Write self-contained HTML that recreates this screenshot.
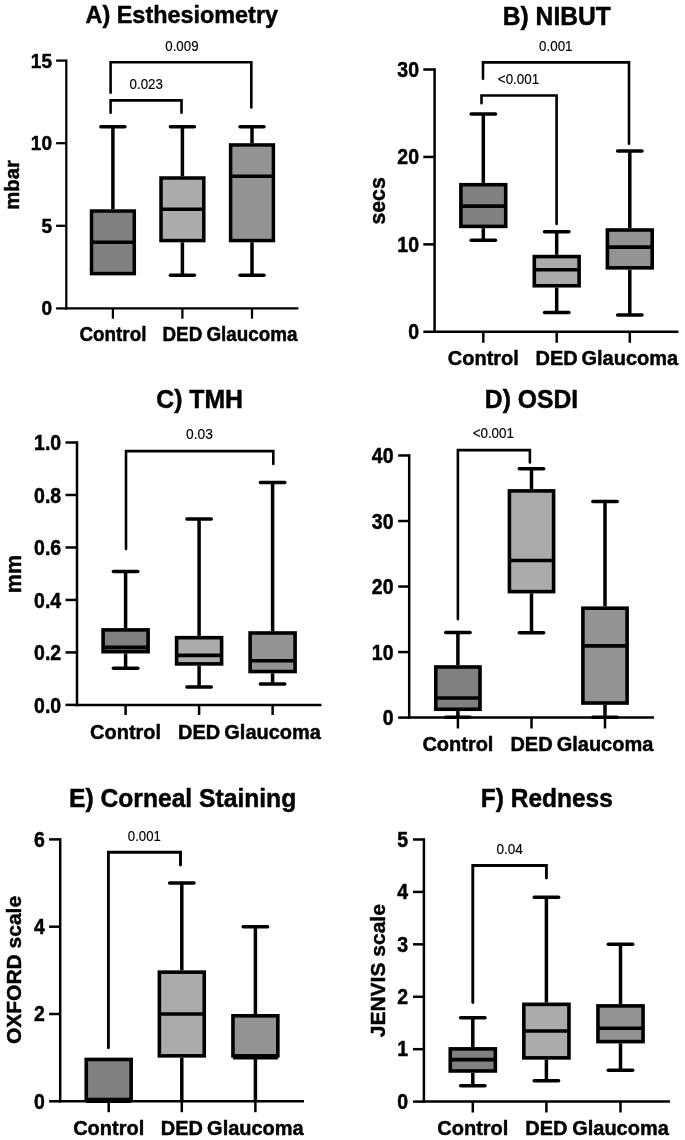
<!DOCTYPE html>
<html><head><meta charset="utf-8"><title>Box plots</title>
<style>
html,body{margin:0;padding:0;background:#fff;}
body{width:685px;height:1140px;overflow:hidden;}
svg{display:block;}
svg text{font-family:'Liberation Sans', Arial, Helvetica, sans-serif;fill:#000;}
svg text.b{font-weight:bold;stroke:#000;stroke-width:0.45;stroke-linejoin:round;}
svg text.r{font-weight:normal;stroke:#000;stroke-width:0.15;stroke-linejoin:round;}
</style></head><body>
<svg width="685" height="1140" viewBox="0 0 685 1140" stroke="#000">
<rect x="0" y="0" width="685" height="1140" fill="#fff" stroke="none"/>
<g stroke="#000">
<line x1="66.30" y1="59.47" x2="66.30" y2="309.52" stroke-width="2.25" stroke-linecap="butt"/>
<line x1="65.17" y1="308.40" x2="298.40" y2="308.40" stroke-width="2.25" stroke-linecap="butt"/>
<line x1="56.10" y1="308.40" x2="66.30" y2="308.40" stroke-width="2.25" stroke-linecap="butt"/>
<g transform="translate(52.00 315.40) scale(1 1.04)">
<text class="b" x="0" y="0" font-size="19" text-anchor="end" >0</text>
</g>
<line x1="56.10" y1="225.80" x2="66.30" y2="225.80" stroke-width="2.25" stroke-linecap="butt"/>
<g transform="translate(52.00 232.80) scale(1 1.04)">
<text class="b" x="0" y="0" font-size="19" text-anchor="end" >5</text>
</g>
<line x1="56.10" y1="143.20" x2="66.30" y2="143.20" stroke-width="2.25" stroke-linecap="butt"/>
<g transform="translate(52.00 150.20) scale(1 1.04)">
<text class="b" x="0" y="0" font-size="19" text-anchor="end" >10</text>
</g>
<line x1="56.10" y1="60.60" x2="66.30" y2="60.60" stroke-width="2.25" stroke-linecap="butt"/>
<g transform="translate(52.00 67.60) scale(1 1.04)">
<text class="b" x="0" y="0" font-size="19" text-anchor="end" >15</text>
</g>
<line x1="112.90" y1="308.40" x2="112.90" y2="318.70" stroke-width="2.25" stroke-linecap="butt"/>
<line x1="182.40" y1="308.40" x2="182.40" y2="318.70" stroke-width="2.25" stroke-linecap="butt"/>
<line x1="252.00" y1="308.40" x2="252.00" y2="318.70" stroke-width="2.25" stroke-linecap="butt"/>
<g transform="translate(112.90 340.50) scale(1 1.03)">
<text class="b" x="0" y="0" font-size="18.85" text-anchor="middle" >Control</text>
</g>
<g transform="translate(182.40 340.50) scale(1 1.03)">
<text class="b" x="0" y="0" font-size="18.85" text-anchor="middle" >DED</text>
</g>
<g transform="translate(252.00 340.50) scale(1 1.03)">
<text class="b" x="0" y="0" font-size="18.85" text-anchor="middle" >Glaucoma</text>
</g>
<line x1="112.90" y1="126.68" x2="112.90" y2="209.28" stroke-width="3.5" stroke-linecap="butt"/>
<line x1="112.90" y1="275.36" x2="112.90" y2="275.36" stroke-width="3.5" stroke-linecap="butt"/>
<line x1="100.90" y1="126.68" x2="124.90" y2="126.68" stroke-width="3.5" stroke-linecap="round"/>
<rect x="91.50" y="211.03" width="42.80" height="62.58" fill="#808080" stroke-width="3.5"/>
<line x1="91.50" y1="242.32" x2="134.30" y2="242.32" stroke-width="3.5" stroke-linecap="butt"/>
<line x1="182.40" y1="126.68" x2="182.40" y2="176.24" stroke-width="3.5" stroke-linecap="butt"/>
<line x1="182.40" y1="242.32" x2="182.40" y2="275.36" stroke-width="3.5" stroke-linecap="butt"/>
<line x1="170.40" y1="126.68" x2="194.40" y2="126.68" stroke-width="3.5" stroke-linecap="round"/>
<line x1="170.40" y1="275.36" x2="194.40" y2="275.36" stroke-width="3.5" stroke-linecap="round"/>
<rect x="161.00" y="177.99" width="42.80" height="62.58" fill="#ababab" stroke-width="3.5"/>
<line x1="161.00" y1="209.28" x2="203.80" y2="209.28" stroke-width="3.5" stroke-linecap="butt"/>
<line x1="252.00" y1="126.68" x2="252.00" y2="143.20" stroke-width="3.5" stroke-linecap="butt"/>
<line x1="252.00" y1="242.32" x2="252.00" y2="275.36" stroke-width="3.5" stroke-linecap="butt"/>
<line x1="240.00" y1="126.68" x2="264.00" y2="126.68" stroke-width="3.5" stroke-linecap="round"/>
<line x1="240.00" y1="275.36" x2="264.00" y2="275.36" stroke-width="3.5" stroke-linecap="round"/>
<rect x="230.60" y="144.95" width="42.80" height="95.62" fill="#939393" stroke-width="3.5"/>
<line x1="230.60" y1="176.24" x2="273.40" y2="176.24" stroke-width="3.5" stroke-linecap="butt"/>
<polyline points="110.60,112.80 110.60,100.40 181.50,100.40 181.50,112.80" fill="none" stroke-width="2.6" stroke-linecap="round" stroke-linejoin="miter"/>
<g transform="translate(146.20 89.30) scale(1 1.11)">
<text class="r" x="0.00" y="0.00" font-size="13.3" text-anchor="middle" >0.023</text>
</g>
<polyline points="110.60,92.80 110.60,62.30 251.30,62.30 251.30,107.40" fill="none" stroke-width="2.6" stroke-linecap="round" stroke-linejoin="miter"/>
<g transform="translate(181.90 51.40) scale(1 1.11)">
<text class="r" x="0.00" y="0.00" font-size="13.3" text-anchor="middle" >0.009</text>
</g>
<g transform="translate(181.80 22.80) scale(1 1.03)">
<text class="b" x="0.00" y="0.00" font-size="23.4" text-anchor="middle" >A) Esthesiometry</text>
</g>
<text class="b" x="19.40" y="184.90" font-size="20.3" text-anchor="middle" transform="rotate(-90 19.40 184.90)">mbar</text>
<line x1="434.60" y1="68.26" x2="434.60" y2="333.05" stroke-width="2.5" stroke-linecap="butt"/>
<line x1="433.35" y1="331.80" x2="678.50" y2="331.80" stroke-width="2.5" stroke-linecap="butt"/>
<line x1="423.30" y1="331.80" x2="434.60" y2="331.80" stroke-width="2.5" stroke-linecap="butt"/>
<g transform="translate(419.00 339.20) scale(1 1.1)">
<text class="b" x="0" y="0" font-size="19.5" text-anchor="end" >0</text>
</g>
<line x1="423.30" y1="244.37" x2="434.60" y2="244.37" stroke-width="2.5" stroke-linecap="butt"/>
<g transform="translate(419.00 251.77) scale(1 1.1)">
<text class="b" x="0" y="0" font-size="19.5" text-anchor="end" >10</text>
</g>
<line x1="423.30" y1="156.94" x2="434.60" y2="156.94" stroke-width="2.5" stroke-linecap="butt"/>
<g transform="translate(419.00 164.34) scale(1 1.1)">
<text class="b" x="0" y="0" font-size="19.5" text-anchor="end" >20</text>
</g>
<line x1="423.30" y1="69.51" x2="434.60" y2="69.51" stroke-width="2.5" stroke-linecap="butt"/>
<g transform="translate(419.00 76.91) scale(1 1.1)">
<text class="b" x="0" y="0" font-size="19.5" text-anchor="end" >30</text>
</g>
<line x1="483.30" y1="331.80" x2="483.30" y2="342.80" stroke-width="2.5" stroke-linecap="butt"/>
<line x1="556.70" y1="331.80" x2="556.70" y2="342.80" stroke-width="2.5" stroke-linecap="butt"/>
<line x1="629.80" y1="331.80" x2="629.80" y2="342.80" stroke-width="2.5" stroke-linecap="butt"/>
<g transform="translate(483.30 365.00) scale(1 1.03)">
<text class="b" x="0" y="0" font-size="20.0" text-anchor="middle" >Control</text>
</g>
<g transform="translate(556.70 365.00) scale(1 1.03)">
<text class="b" x="0" y="0" font-size="20.0" text-anchor="middle" >DED</text>
</g>
<g transform="translate(629.80 365.00) scale(1 1.03)">
<text class="b" x="0" y="0" font-size="20.0" text-anchor="middle" >Glaucoma</text>
</g>
<line x1="483.30" y1="114.10" x2="483.30" y2="182.91" stroke-width="3.5" stroke-linecap="butt"/>
<line x1="483.30" y1="228.20" x2="483.30" y2="240.17" stroke-width="3.5" stroke-linecap="butt"/>
<line x1="471.10" y1="114.10" x2="495.50" y2="114.10" stroke-width="3.5" stroke-linecap="round"/>
<line x1="471.10" y1="240.17" x2="495.50" y2="240.17" stroke-width="3.5" stroke-linecap="round"/>
<rect x="460.90" y="184.71" width="44.80" height="41.69" fill="#808080" stroke-width="3.6"/>
<line x1="460.90" y1="206.08" x2="505.70" y2="206.08" stroke-width="3.6" stroke-linecap="butt"/>
<line x1="556.70" y1="231.69" x2="556.70" y2="254.77" stroke-width="3.5" stroke-linecap="butt"/>
<line x1="556.70" y1="287.56" x2="556.70" y2="312.57" stroke-width="3.5" stroke-linecap="butt"/>
<line x1="544.50" y1="231.69" x2="568.90" y2="231.69" stroke-width="3.5" stroke-linecap="round"/>
<line x1="544.50" y1="312.57" x2="568.90" y2="312.57" stroke-width="3.5" stroke-linecap="round"/>
<rect x="534.30" y="256.57" width="44.80" height="29.19" fill="#ababab" stroke-width="3.6"/>
<line x1="534.30" y1="269.81" x2="579.10" y2="269.81" stroke-width="3.6" stroke-linecap="butt"/>
<line x1="629.80" y1="150.99" x2="629.80" y2="228.20" stroke-width="3.5" stroke-linecap="butt"/>
<line x1="629.80" y1="269.64" x2="629.80" y2="315.01" stroke-width="3.5" stroke-linecap="butt"/>
<line x1="617.60" y1="150.99" x2="642.00" y2="150.99" stroke-width="3.5" stroke-linecap="round"/>
<line x1="617.60" y1="315.01" x2="642.00" y2="315.01" stroke-width="3.5" stroke-linecap="round"/>
<rect x="607.40" y="230.00" width="44.80" height="37.84" fill="#939393" stroke-width="3.6"/>
<line x1="607.40" y1="247.08" x2="652.20" y2="247.08" stroke-width="3.6" stroke-linecap="butt"/>
<polyline points="481.50,103.20 481.50,95.50 556.60,95.50 556.60,224.00" fill="none" stroke-width="2.6" stroke-linecap="round" stroke-linejoin="miter"/>
<g transform="translate(518.50 84.20) scale(1 1.11)">
<text class="r" x="0.00" y="0.00" font-size="13.4" text-anchor="middle" >&lt;0.001</text>
</g>
<polyline points="483.00,78.80 483.00,62.40 629.00,62.40 629.00,143.70" fill="none" stroke-width="2.6" stroke-linecap="round" stroke-linejoin="miter"/>
<g transform="translate(555.80 50.90) scale(1 1.11)">
<text class="r" x="0.00" y="0.00" font-size="13.4" text-anchor="middle" >0.001</text>
</g>
<g transform="translate(556.80 24.50) scale(1 1.08)">
<text class="b" x="0.00" y="0.00" font-size="24.6" text-anchor="middle" >B) NIBUT</text>
</g>
<text class="b" x="385.20" y="200.90" font-size="21.2" text-anchor="middle" transform="rotate(-90 385.20 200.90)">secs</text>
<line x1="77.00" y1="441.25" x2="77.00" y2="706.15" stroke-width="2.5" stroke-linecap="butt"/>
<line x1="75.75" y1="704.90" x2="321.50" y2="704.90" stroke-width="2.5" stroke-linecap="butt"/>
<line x1="65.50" y1="704.90" x2="77.00" y2="704.90" stroke-width="2.5" stroke-linecap="butt"/>
<g transform="translate(61.20 712.50) scale(1 1.1)">
<text class="b" x="0" y="0" font-size="19.5" text-anchor="end" >0.0</text>
</g>
<line x1="65.50" y1="652.42" x2="77.00" y2="652.42" stroke-width="2.5" stroke-linecap="butt"/>
<g transform="translate(61.20 660.02) scale(1 1.1)">
<text class="b" x="0" y="0" font-size="19.5" text-anchor="end" >0.2</text>
</g>
<line x1="65.50" y1="599.94" x2="77.00" y2="599.94" stroke-width="2.5" stroke-linecap="butt"/>
<g transform="translate(61.20 607.54) scale(1 1.1)">
<text class="b" x="0" y="0" font-size="19.5" text-anchor="end" >0.4</text>
</g>
<line x1="65.50" y1="547.46" x2="77.00" y2="547.46" stroke-width="2.5" stroke-linecap="butt"/>
<g transform="translate(61.20 555.06) scale(1 1.1)">
<text class="b" x="0" y="0" font-size="19.5" text-anchor="end" >0.6</text>
</g>
<line x1="65.50" y1="494.98" x2="77.00" y2="494.98" stroke-width="2.5" stroke-linecap="butt"/>
<g transform="translate(61.20 502.58) scale(1 1.1)">
<text class="b" x="0" y="0" font-size="19.5" text-anchor="end" >0.8</text>
</g>
<line x1="65.50" y1="442.50" x2="77.00" y2="442.50" stroke-width="2.5" stroke-linecap="butt"/>
<g transform="translate(61.20 450.10) scale(1 1.1)">
<text class="b" x="0" y="0" font-size="19.5" text-anchor="end" >1.0</text>
</g>
<line x1="125.60" y1="704.90" x2="125.60" y2="715.00" stroke-width="2.5" stroke-linecap="butt"/>
<line x1="199.10" y1="704.90" x2="199.10" y2="715.00" stroke-width="2.5" stroke-linecap="butt"/>
<line x1="272.60" y1="704.90" x2="272.60" y2="715.00" stroke-width="2.5" stroke-linecap="butt"/>
<g transform="translate(125.60 738.70) scale(1 1.03)">
<text class="b" x="0" y="0" font-size="20.0" text-anchor="middle" >Control</text>
</g>
<g transform="translate(199.10 738.70) scale(1 1.03)">
<text class="b" x="0" y="0" font-size="20.0" text-anchor="middle" >DED</text>
</g>
<g transform="translate(272.60 738.70) scale(1 1.03)">
<text class="b" x="0" y="0" font-size="20.0" text-anchor="middle" >Glaucoma</text>
</g>
<line x1="125.60" y1="571.42" x2="125.60" y2="628.10" stroke-width="3.5" stroke-linecap="butt"/>
<line x1="125.60" y1="653.50" x2="125.60" y2="668.22" stroke-width="3.5" stroke-linecap="butt"/>
<line x1="113.40" y1="571.42" x2="137.80" y2="571.42" stroke-width="3.5" stroke-linecap="round"/>
<line x1="113.40" y1="668.22" x2="137.80" y2="668.22" stroke-width="3.5" stroke-linecap="round"/>
<rect x="103.10" y="629.90" width="45.00" height="21.80" fill="#808080" stroke-width="3.6"/>
<line x1="103.10" y1="647.38" x2="148.10" y2="647.38" stroke-width="3.6" stroke-linecap="butt"/>
<line x1="199.10" y1="518.91" x2="199.10" y2="635.89" stroke-width="3.5" stroke-linecap="butt"/>
<line x1="199.10" y1="665.70" x2="199.10" y2="686.90" stroke-width="3.5" stroke-linecap="butt"/>
<line x1="186.90" y1="518.91" x2="211.30" y2="518.91" stroke-width="3.5" stroke-linecap="round"/>
<line x1="186.90" y1="686.90" x2="211.30" y2="686.90" stroke-width="3.5" stroke-linecap="round"/>
<rect x="176.60" y="637.69" width="45.00" height="26.21" fill="#ababab" stroke-width="3.6"/>
<line x1="176.60" y1="655.41" x2="221.60" y2="655.41" stroke-width="3.6" stroke-linecap="butt"/>
<line x1="272.60" y1="482.41" x2="272.60" y2="631.19" stroke-width="3.5" stroke-linecap="butt"/>
<line x1="272.60" y1="673.33" x2="272.60" y2="683.91" stroke-width="3.5" stroke-linecap="butt"/>
<line x1="260.40" y1="482.41" x2="284.80" y2="482.41" stroke-width="3.5" stroke-linecap="round"/>
<line x1="260.40" y1="683.91" x2="284.80" y2="683.91" stroke-width="3.5" stroke-linecap="round"/>
<rect x="250.10" y="632.99" width="45.00" height="38.54" fill="#939393" stroke-width="3.6"/>
<line x1="250.10" y1="660.79" x2="295.10" y2="660.79" stroke-width="3.6" stroke-linecap="butt"/>
<polyline points="126.00,549.00 126.00,451.10 273.30,451.10 273.30,464.00" fill="none" stroke-width="2.6" stroke-linecap="round" stroke-linejoin="miter"/>
<g transform="translate(199.40 438.90) scale(1 1.11)">
<text class="r" x="0.00" y="0.00" font-size="13.8" text-anchor="middle" >0.03</text>
</g>
<g transform="translate(199.60 407.90) scale(1 1.05)">
<text class="b" x="0.00" y="0.00" font-size="24.8" text-anchor="middle" >C) TMH</text>
</g>
<text class="b" x="21.40" y="574.10" font-size="21.5" text-anchor="middle" transform="rotate(-90 21.40 574.10)">mm</text>
<line x1="409.20" y1="454.23" x2="409.20" y2="718.85" stroke-width="2.5" stroke-linecap="butt"/>
<line x1="407.95" y1="717.60" x2="654.00" y2="717.60" stroke-width="2.5" stroke-linecap="butt"/>
<line x1="398.10" y1="717.60" x2="409.20" y2="717.60" stroke-width="2.5" stroke-linecap="butt"/>
<g transform="translate(393.50 725.10) scale(1 1.1)">
<text class="b" x="0" y="0" font-size="19.5" text-anchor="end" >0</text>
</g>
<line x1="398.10" y1="652.07" x2="409.20" y2="652.07" stroke-width="2.5" stroke-linecap="butt"/>
<g transform="translate(393.50 659.57) scale(1 1.1)">
<text class="b" x="0" y="0" font-size="19.5" text-anchor="end" >10</text>
</g>
<line x1="398.10" y1="586.54" x2="409.20" y2="586.54" stroke-width="2.5" stroke-linecap="butt"/>
<g transform="translate(393.50 594.04) scale(1 1.1)">
<text class="b" x="0" y="0" font-size="19.5" text-anchor="end" >20</text>
</g>
<line x1="398.10" y1="521.01" x2="409.20" y2="521.01" stroke-width="2.5" stroke-linecap="butt"/>
<g transform="translate(393.50 528.51) scale(1 1.1)">
<text class="b" x="0" y="0" font-size="19.5" text-anchor="end" >30</text>
</g>
<line x1="398.10" y1="455.48" x2="409.20" y2="455.48" stroke-width="2.5" stroke-linecap="butt"/>
<g transform="translate(393.50 462.98) scale(1 1.1)">
<text class="b" x="0" y="0" font-size="19.5" text-anchor="end" >40</text>
</g>
<line x1="457.90" y1="717.60" x2="457.90" y2="728.50" stroke-width="2.5" stroke-linecap="butt"/>
<line x1="531.50" y1="717.60" x2="531.50" y2="728.50" stroke-width="2.5" stroke-linecap="butt"/>
<line x1="605.00" y1="717.60" x2="605.00" y2="728.50" stroke-width="2.5" stroke-linecap="butt"/>
<g transform="translate(457.90 751.30) scale(1 1.03)">
<text class="b" x="0" y="0" font-size="20.0" text-anchor="middle" >Control</text>
</g>
<g transform="translate(531.50 751.30) scale(1 1.03)">
<text class="b" x="0" y="0" font-size="20.0" text-anchor="middle" >DED</text>
</g>
<g transform="translate(605.00 751.30) scale(1 1.03)">
<text class="b" x="0" y="0" font-size="20.0" text-anchor="middle" >Glaucoma</text>
</g>
<line x1="457.90" y1="632.61" x2="457.90" y2="665.18" stroke-width="3.5" stroke-linecap="butt"/>
<line x1="457.90" y1="711.05" x2="457.90" y2="717.27" stroke-width="3.5" stroke-linecap="butt"/>
<line x1="445.70" y1="632.61" x2="470.10" y2="632.61" stroke-width="3.5" stroke-linecap="round"/>
<line x1="445.70" y1="717.27" x2="470.10" y2="717.27" stroke-width="3.5" stroke-linecap="round"/>
<rect x="435.80" y="666.98" width="44.20" height="42.27" fill="#808080" stroke-width="3.6"/>
<line x1="435.80" y1="697.94" x2="480.00" y2="697.94" stroke-width="3.6" stroke-linecap="butt"/>
<line x1="531.50" y1="468.78" x2="531.50" y2="489.10" stroke-width="3.5" stroke-linecap="butt"/>
<line x1="531.50" y1="593.42" x2="531.50" y2="632.80" stroke-width="3.5" stroke-linecap="butt"/>
<line x1="519.30" y1="468.78" x2="543.70" y2="468.78" stroke-width="3.5" stroke-linecap="round"/>
<line x1="519.30" y1="632.80" x2="543.70" y2="632.80" stroke-width="3.5" stroke-linecap="round"/>
<rect x="509.40" y="490.90" width="44.20" height="100.72" fill="#ababab" stroke-width="3.6"/>
<line x1="509.40" y1="560.52" x2="553.60" y2="560.52" stroke-width="3.6" stroke-linecap="butt"/>
<line x1="605.00" y1="501.48" x2="605.00" y2="606.40" stroke-width="3.5" stroke-linecap="butt"/>
<line x1="605.00" y1="704.82" x2="605.00" y2="717.27" stroke-width="3.5" stroke-linecap="butt"/>
<line x1="592.80" y1="501.48" x2="617.20" y2="501.48" stroke-width="3.5" stroke-linecap="round"/>
<line x1="592.80" y1="717.27" x2="617.20" y2="717.27" stroke-width="3.5" stroke-linecap="round"/>
<rect x="582.90" y="608.20" width="44.20" height="94.83" fill="#939393" stroke-width="3.6"/>
<line x1="582.90" y1="645.84" x2="627.10" y2="645.84" stroke-width="3.6" stroke-linecap="butt"/>
<polyline points="457.90,619.10 457.90,450.10 529.90,450.10 529.90,462.50" fill="none" stroke-width="2.6" stroke-linecap="round" stroke-linejoin="miter"/>
<g transform="translate(493.30 437.50) scale(1 1.11)">
<text class="r" x="0.00" y="0.00" font-size="13.4" text-anchor="middle" >&lt;0.001</text>
</g>
<g transform="translate(531.50 407.60) scale(1 1.03)">
<text class="b" x="0.00" y="0.00" font-size="24.7" text-anchor="middle" >D) OSDI</text>
</g>
<line x1="60.20" y1="838.15" x2="60.20" y2="1102.55" stroke-width="2.5" stroke-linecap="butt"/>
<line x1="58.95" y1="1101.30" x2="304.00" y2="1101.30" stroke-width="2.5" stroke-linecap="butt"/>
<line x1="49.10" y1="1101.30" x2="60.20" y2="1101.30" stroke-width="2.5" stroke-linecap="butt"/>
<g transform="translate(44.80 1108.70) scale(1 1.1)">
<text class="b" x="0" y="0" font-size="19.5" text-anchor="end" >0</text>
</g>
<line x1="49.10" y1="1014.00" x2="60.20" y2="1014.00" stroke-width="2.5" stroke-linecap="butt"/>
<g transform="translate(44.80 1021.40) scale(1 1.1)">
<text class="b" x="0" y="0" font-size="19.5" text-anchor="end" >2</text>
</g>
<line x1="49.10" y1="926.70" x2="60.20" y2="926.70" stroke-width="2.5" stroke-linecap="butt"/>
<g transform="translate(44.80 934.10) scale(1 1.1)">
<text class="b" x="0" y="0" font-size="19.5" text-anchor="end" >4</text>
</g>
<line x1="49.10" y1="839.40" x2="60.20" y2="839.40" stroke-width="2.5" stroke-linecap="butt"/>
<g transform="translate(44.80 846.80) scale(1 1.1)">
<text class="b" x="0" y="0" font-size="19.5" text-anchor="end" >6</text>
</g>
<line x1="108.70" y1="1101.30" x2="108.70" y2="1112.20" stroke-width="2.5" stroke-linecap="butt"/>
<line x1="181.80" y1="1101.30" x2="181.80" y2="1112.20" stroke-width="2.5" stroke-linecap="butt"/>
<line x1="255.40" y1="1101.30" x2="255.40" y2="1112.20" stroke-width="2.5" stroke-linecap="butt"/>
<g transform="translate(108.70 1134.70) scale(1 1.03)">
<text class="b" x="0" y="0" font-size="20.0" text-anchor="middle" >Control</text>
</g>
<g transform="translate(181.80 1134.70) scale(1 1.03)">
<text class="b" x="0" y="0" font-size="20.0" text-anchor="middle" >DED</text>
</g>
<g transform="translate(255.40 1134.70) scale(1 1.03)">
<text class="b" x="0" y="0" font-size="20.0" text-anchor="middle" >Glaucoma</text>
</g>
<line x1="108.70" y1="1057.65" x2="108.70" y2="1057.65" stroke-width="3.5" stroke-linecap="butt"/>
<line x1="108.70" y1="1101.30" x2="108.70" y2="1101.30" stroke-width="3.5" stroke-linecap="butt"/>
<rect x="86.25" y="1059.45" width="44.90" height="40.05" fill="#808080" stroke-width="3.6"/>
<line x1="86.25" y1="1101.30" x2="131.15" y2="1101.30" stroke-width="3.6" stroke-linecap="butt"/>
<line x1="181.80" y1="883.05" x2="181.80" y2="970.35" stroke-width="3.5" stroke-linecap="butt"/>
<line x1="181.80" y1="1057.65" x2="181.80" y2="1101.30" stroke-width="3.5" stroke-linecap="butt"/>
<line x1="169.60" y1="883.05" x2="194.00" y2="883.05" stroke-width="3.5" stroke-linecap="round"/>
<rect x="159.35" y="972.15" width="44.90" height="83.70" fill="#ababab" stroke-width="3.6"/>
<line x1="159.35" y1="1014.00" x2="204.25" y2="1014.00" stroke-width="3.6" stroke-linecap="butt"/>
<line x1="255.40" y1="926.70" x2="255.40" y2="1014.00" stroke-width="3.5" stroke-linecap="butt"/>
<line x1="255.40" y1="1057.65" x2="255.40" y2="1101.30" stroke-width="3.5" stroke-linecap="butt"/>
<line x1="243.20" y1="926.70" x2="267.60" y2="926.70" stroke-width="3.5" stroke-linecap="round"/>
<rect x="232.95" y="1015.80" width="44.90" height="40.05" fill="#939393" stroke-width="3.6"/>
<line x1="232.95" y1="1057.65" x2="277.85" y2="1057.65" stroke-width="3.6" stroke-linecap="butt"/>
<polyline points="108.40,1047.85 108.40,852.30 180.50,852.30 180.50,865.05" fill="none" stroke-width="2.9" stroke-linecap="round" stroke-linejoin="miter"/>
<g transform="translate(144.30 841.10) scale(1 1.11)">
<text class="r" x="0.00" y="0.00" font-size="13.2" text-anchor="middle" >0.001</text>
</g>
<g transform="translate(182.60 806.60) scale(1 1.07)">
<text class="b" x="0.00" y="0.00" font-size="24.65" text-anchor="middle" >E) Corneal Staining</text>
</g>
<text class="b" x="21.20" y="970.00" font-size="21.0" text-anchor="middle" transform="rotate(-90 21.20 970.00)">OXFORD scale</text>
<line x1="423.90" y1="838.25" x2="423.90" y2="1102.85" stroke-width="2.5" stroke-linecap="butt"/>
<line x1="422.65" y1="1101.60" x2="670.00" y2="1101.60" stroke-width="2.5" stroke-linecap="butt"/>
<line x1="413.00" y1="1101.60" x2="423.90" y2="1101.60" stroke-width="2.5" stroke-linecap="butt"/>
<g transform="translate(408.20 1108.90) scale(1 1.1)">
<text class="b" x="0" y="0" font-size="19.5" text-anchor="end" >0</text>
</g>
<line x1="413.00" y1="1049.18" x2="423.90" y2="1049.18" stroke-width="2.5" stroke-linecap="butt"/>
<g transform="translate(408.20 1056.48) scale(1 1.1)">
<text class="b" x="0" y="0" font-size="19.5" text-anchor="end" >1</text>
</g>
<line x1="413.00" y1="996.76" x2="423.90" y2="996.76" stroke-width="2.5" stroke-linecap="butt"/>
<g transform="translate(408.20 1004.06) scale(1 1.1)">
<text class="b" x="0" y="0" font-size="19.5" text-anchor="end" >2</text>
</g>
<line x1="413.00" y1="944.34" x2="423.90" y2="944.34" stroke-width="2.5" stroke-linecap="butt"/>
<g transform="translate(408.20 951.64) scale(1 1.1)">
<text class="b" x="0" y="0" font-size="19.5" text-anchor="end" >3</text>
</g>
<line x1="413.00" y1="891.92" x2="423.90" y2="891.92" stroke-width="2.5" stroke-linecap="butt"/>
<g transform="translate(408.20 899.22) scale(1 1.1)">
<text class="b" x="0" y="0" font-size="19.5" text-anchor="end" >4</text>
</g>
<line x1="413.00" y1="839.50" x2="423.90" y2="839.50" stroke-width="2.5" stroke-linecap="butt"/>
<g transform="translate(408.20 846.80) scale(1 1.1)">
<text class="b" x="0" y="0" font-size="19.5" text-anchor="end" >5</text>
</g>
<line x1="472.80" y1="1101.60" x2="472.80" y2="1112.50" stroke-width="2.5" stroke-linecap="butt"/>
<line x1="546.40" y1="1101.60" x2="546.40" y2="1112.50" stroke-width="2.5" stroke-linecap="butt"/>
<line x1="620.50" y1="1101.60" x2="620.50" y2="1112.50" stroke-width="2.5" stroke-linecap="butt"/>
<g transform="translate(472.80 1135.30) scale(1 1.03)">
<text class="b" x="0" y="0" font-size="20.0" text-anchor="middle" >Control</text>
</g>
<g transform="translate(546.40 1135.30) scale(1 1.03)">
<text class="b" x="0" y="0" font-size="20.0" text-anchor="middle" >DED</text>
</g>
<g transform="translate(620.50 1135.30) scale(1 1.03)">
<text class="b" x="0" y="0" font-size="20.0" text-anchor="middle" >Glaucoma</text>
</g>
<line x1="472.80" y1="1017.73" x2="472.80" y2="1047.08" stroke-width="3.5" stroke-linecap="butt"/>
<line x1="472.80" y1="1072.77" x2="472.80" y2="1085.87" stroke-width="3.5" stroke-linecap="butt"/>
<line x1="460.60" y1="1017.73" x2="485.00" y2="1017.73" stroke-width="3.5" stroke-linecap="round"/>
<line x1="460.60" y1="1085.87" x2="485.00" y2="1085.87" stroke-width="3.5" stroke-linecap="round"/>
<rect x="450.25" y="1048.88" width="45.10" height="22.09" fill="#808080" stroke-width="3.6"/>
<line x1="450.25" y1="1059.66" x2="495.35" y2="1059.66" stroke-width="3.6" stroke-linecap="butt"/>
<line x1="546.40" y1="897.16" x2="546.40" y2="1002.53" stroke-width="3.5" stroke-linecap="butt"/>
<line x1="546.40" y1="1059.66" x2="546.40" y2="1080.63" stroke-width="3.5" stroke-linecap="butt"/>
<line x1="534.20" y1="897.16" x2="558.60" y2="897.16" stroke-width="3.5" stroke-linecap="round"/>
<line x1="534.20" y1="1080.63" x2="558.60" y2="1080.63" stroke-width="3.5" stroke-linecap="round"/>
<rect x="523.85" y="1004.33" width="45.10" height="53.54" fill="#ababab" stroke-width="3.6"/>
<line x1="523.85" y1="1030.99" x2="568.95" y2="1030.99" stroke-width="3.6" stroke-linecap="butt"/>
<line x1="620.50" y1="944.34" x2="620.50" y2="1004.10" stroke-width="3.5" stroke-linecap="butt"/>
<line x1="620.50" y1="1043.41" x2="620.50" y2="1070.15" stroke-width="3.5" stroke-linecap="butt"/>
<line x1="608.30" y1="944.34" x2="632.70" y2="944.34" stroke-width="3.5" stroke-linecap="round"/>
<line x1="608.30" y1="1070.15" x2="632.70" y2="1070.15" stroke-width="3.5" stroke-linecap="round"/>
<rect x="597.95" y="1005.90" width="45.10" height="35.71" fill="#939393" stroke-width="3.6"/>
<line x1="597.95" y1="1028.21" x2="643.05" y2="1028.21" stroke-width="3.6" stroke-linecap="butt"/>
<polyline points="472.80,1002.55 472.80,865.50 546.40,865.50 546.40,877.95" fill="none" stroke-width="2.9" stroke-linecap="round" stroke-linejoin="miter"/>
<g transform="translate(509.60 854.30) scale(1 1.11)">
<text class="r" x="0.00" y="0.00" font-size="13.6" text-anchor="middle" >0.04</text>
</g>
<g transform="translate(546.80 807.10) scale(1 1.07)">
<text class="b" x="0.00" y="0.00" font-size="24.5" text-anchor="middle" >F) Redness</text>
</g>
<text class="b" x="385.10" y="970.70" font-size="21.0" text-anchor="middle" transform="rotate(-90 385.10 970.70)">JENVIS scale</text>
</g>
</svg>
</body></html>
